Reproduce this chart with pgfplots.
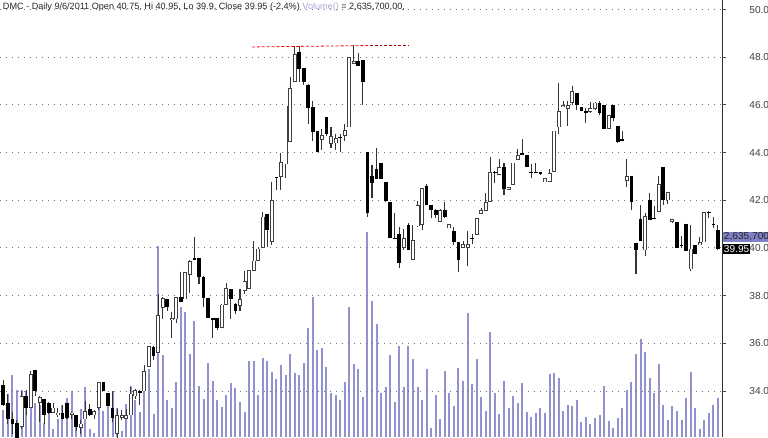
\documentclass[border=0pt]{standalone}
\usepackage{pgfplots}
\usepackage{pgfplotstable}
\usepackage{fontspec}
\setmainfont{Liberation Sans}
\pgfplotsset{compat=1.18}
\definecolor{volbar}{HTML}{9292D0}
\definecolor{volbox}{HTML}{8080C4}
\definecolor{voltxt}{HTML}{A9A9D8}
\pgfplotstableread{
i hi lo top bot
0 34.48 33.37 34.27 33.40
1 33.86 32.60 33.51 32.81
2 33.12 32.20 32.81 32.63
3 32.77 32.00 32.65 32.00
5 34.03 32.98 33.78 33.30
7 34.90 33.78 34.90 33.99
9 33.68 32.63 33.68 32.98
10 33.54 33.05 33.50 33.07
13 33.40 32.81 33.09 32.81
14 33.50 32.84 33.50 32.88
16 32.98 32.32 32.98 32.49
19 33.47 32.95 33.23 32.98
22 34.38 33.99 34.38 33.99
23 33.92 33.38 33.92 33.38
24 34.00 32.70 33.30 32.88
30 34.03 33.40 33.99 33.90
33 35.88 35.32 35.85 35.47
36 37.84 37.37 37.84 37.53
39 39.00 37.74 37.93 37.74
42 40.45 39.50 39.56 39.50
43 39.58 38.49 39.58 38.78
44 38.81 37.52 38.78 37.92
45 37.92 37.05 37.92 37.05
46 37.08 36.24 37.08 36.98
47 37.08 36.56 37.08 36.63
50 38.27 37.01 38.27 37.84
51 37.69 37.22 37.66 37.34
58 41.41 40.03 41.41 40.76
60 42.98 42.43 42.98 42.95
65 48.49 46.94 48.20 47.50
66 47.54 46.84 47.54 46.98
67 46.87 45.20 46.83 45.87
68 46.17 44.49 45.90 44.88
69 44.90 44.01 44.90 44.01
71 45.50 44.70 45.50 44.77
74 44.78 44.04 44.64 44.60
78 48.17 47.64 47.86 47.64
79 47.89 46.00 47.89 46.98
80 44.01 41.31 44.01 41.48
81 43.48 42.11 43.02 42.74
82 44.18 42.88 43.30 42.88
83 43.55 42.88 43.55 42.88
84 42.78 41.93 42.78 41.97
85 41.92 40.40 41.92 40.40
86 41.46 40.40 40.43 40.40
87 40.87 39.14 40.58 39.38
89 41.04 39.90 40.97 39.90
93 42.67 41.81 42.60 41.81
94 41.81 41.24 41.81 41.58
95 41.64 41.25 41.60 41.40
97 41.92 41.24 41.60 41.29
99 40.86 40.14 40.71 40.24
100 40.25 38.99 40.25 39.51
103 40.60 40.17 40.40 40.37
108 43.24 42.71 43.18 43.15
110 43.58 42.22 43.38 42.47
114 44.56 43.88 43.99 43.88
115 43.88 43.38 43.88 43.38
116 43.54 42.92 43.19 43.17
117 43.58 43.15 43.18 43.15
118 43.18 43.06 43.18 43.10
126 46.50 45.78 46.50 45.99
127 45.92 45.74 45.92 45.76
128 45.87 45.24 45.76 45.65
131 46.18 45.59 46.10 45.65
132 46.00 44.99 46.00 44.99
134 46.00 45.31 46.00 45.45
135 45.10 44.39 45.10 44.43
136 44.90 44.49 44.55 44.49
138 43.02 41.60 43.02 41.92
139 40.22 38.91 40.22 39.90
140 41.79 40.28 41.23 40.28
142 42.31 41.16 42.00 41.16
143 41.75 41.22 41.24 41.22
145 43.40 41.79 43.40 42.00
148 41.08 40.00 41.08 40.00
149 40.49 40.00 40.13 40.10
150 41.01 39.86 41.01 39.86
152 40.13 39.75 40.13 39.75
155 41.55 41.26 41.52 41.49
156 41.29 40.84 41.01 40.95
157 40.95 39.90 40.75 39.95
}\blackcandles
\pgfplotstableread{
i hi lo top bot
4 34.00 32.40 33.78 32.49
6 34.84 33.30 34.70 33.30
8 33.78 32.70 33.75 33.50
11 33.50 33.07 33.30 33.07
12 33.28 32.90 33.09 32.98
15 33.12 32.81 33.09 33.00
17 32.77 32.20 32.63 32.46
18 33.60 32.81 33.14 32.81
20 33.19 32.84 33.16 32.98
21 34.38 33.19 34.38 33.28
25 33.26 32.00 32.98 32.20
26 33.19 32.80 32.98 32.88
27 33.26 32.82 32.98 32.82
28 34.17 32.98 33.89 32.98
29 34.10 33.68 34.03 33.78
31 35.08 33.99 34.84 33.99
32 35.88 35.00 35.88 35.00
34 38.07 35.60 37.17 35.60
35 37.93 37.00 37.90 37.50
37 37.30 36.23 37.07 36.97
38 37.93 36.86 37.93 37.00
40 39.00 37.84 39.00 37.84
41 39.50 38.10 39.46 38.87
48 37.65 36.63 37.62 36.66
49 38.53 37.62 38.32 37.62
52 38.27 37.36 37.85 37.56
53 39.02 38.06 38.60 38.20
54 39.06 38.29 39.06 38.29
55 40.30 39.05 39.47 39.05
56 40.03 39.44 39.97 39.47
57 41.52 40.00 41.31 40.00
59 42.76 40.14 42.00 40.25
61 43.97 42.43 43.59 42.99
62 45.97 42.95 45.97 43.51
63 47.19 44.46 46.69 44.46
64 48.49 46.98 48.13 46.98
70 44.98 44.11 44.73 44.53
72 45.06 44.21 44.70 44.36
73 44.78 44.11 44.60 44.39
75 45.19 44.50 44.95 44.70
76 48.00 45.06 48.00 45.06
77 48.52 47.73 47.85 47.73
88 40.79 39.93 40.42 40.00
90 40.97 39.49 40.32 39.51
91 41.97 40.86 41.81 40.90
92 42.50 40.74 42.50 40.97
96 41.64 41.08 41.60 41.08
98 41.00 40.82 41.00 40.82
101 40.28 39.99 40.15 39.99
102 40.69 39.24 40.15 39.99
104 41.25 40.54 41.25 40.54
105 41.69 41.42 41.58 41.42
106 42.29 41.56 41.93 41.56
107 43.82 41.93 43.18 41.93
109 43.75 43.08 43.38 43.08
111 42.54 42.43 42.54 42.43
112 43.58 42.64 43.58 42.64
113 44.17 43.68 43.88 43.68
119 42.94 42.75 42.94 42.75
120 43.33 42.78 43.15 42.78
121 44.92 43.19 44.92 43.19
122 46.90 44.76 45.73 45.06
123 46.18 45.90 45.99 45.90
124 46.18 45.10 45.99 45.82
125 46.81 46.01 46.59 46.08
129 46.13 45.67 45.85 45.71
130 46.13 45.80 46.10 45.83
133 45.57 44.99 45.57 44.99
137 43.75 42.55 43.01 42.80
141 41.47 39.65 41.34 39.90
144 43.00 41.51 42.69 41.51
146 42.35 41.85 42.35 42.00
147 41.22 41.05 41.22 41.08
151 40.97 39.05 39.97 39.10
153 40.46 40.11 40.24 40.11
154 41.51 40.24 41.51 40.24
}\hollowcandles
\pgfplotstableread{
i v
0 1.83
1 2.91
2 4.19
3 3.18
4 3.18
5 3.11
6 2.97
7 2.30
8 2.16
9 0.95
10 1.62
11 0.54
12 1.22
13 2.16
14 2.64
15 3.11
16 0.68
17 1.89
18 3.38
19 0.54
20 0.27
21 2.37
22 1.76
23 2.37
24 3.11
25 1.96
26 0.41
27 2.23
28 3.45
29 2.50
30 1.69
31 3.18
32 4.60
33 1.55
34 12.91
35 5.54
36 2.50
37 1.96
38 3.72
39 8.79
40 8.45
41 5.61
42 7.84
43 3.45
44 2.57
45 5.00
46 3.79
47 2.50
48 2.03
49 2.84
50 3.65
51 3.31
52 2.37
53 1.69
54 5.14
55 5.14
56 2.84
57 5.34
58 5.14
59 4.39
60 3.92
61 4.87
62 4.19
63 5.61
64 4.33
65 4.19
66 5.00
67 7.37
68 9.46
69 5.88
70 6.02
71 4.73
72 2.97
73 2.84
74 2.50
75 3.72
76 8.79
77 4.93
78 4.60
79 2.70
80 13.86
81 9.19
82 7.64
83 2.97
84 3.38
85 5.54
86 2.37
87 6.15
88 3.38
89 6.15
90 5.27
91 3.38
92 2.50
93 4.60
94 0.61
95 2.84
96 1.22
97 4.46
98 2.97
99 2.10
100 4.66
101 3.79
102 8.38
103 3.58
104 5.27
105 2.70
106 1.76
107 7.10
108 2.97
109 1.55
110 3.79
111 1.96
112 2.77
113 2.30
114 3.65
115 1.69
116 1.35
117 1.62
118 1.96
119 1.62
120 4.26
121 4.33
122 3.99
123 1.76
124 2.16
125 2.10
126 2.50
127 1.01
128 1.35
129 0.88
130 1.28
131 1.49
132 3.45
133 1.08
134 0.61
135 1.28
136 1.96
137 3.18
138 3.72
139 5.61
140 6.62
141 5.75
142 3.99
143 2.97
144 4.93
145 2.16
146 1.15
147 2.10
148 1.76
149 1.15
150 2.64
151 4.39
152 1.96
153 0.54
154 1.15
155 1.62
156 2.16
157 2.6357
}\volumes
\pgfplotsset{
  base/.style={at={(0,0)},anchor=south west,scale only axis,
    width=542.0pt,height=327.75pt,xmin=-0.725,xmax=158.04},
  wick/.style={draw=none,mark=none,forget plot,
    error bars/.cd,y dir=minus,y explicit,error mark=none,
    error bar style={line width=0.8pt,color=black!80,line cap=butt}},
  body/.style 2 args={draw=none,mark=none,forget plot,
    error bars/.cd,y dir=minus,y explicit,error mark=none,
    error bar style={line width=#1,color=#2,line cap=butt}},
}
\begin{document}
\begin{tikzpicture}
\path[use as bounding box] (0,0) rectangle (576pt,327.75pt);
% volume
\begin{axis}[base,hide axis,ymin=0,ymax=29.54]
\addplot[ycomb,no markers,color=volbar,line width=1.5pt] table[x=i,y=v]{\volumes};
\end{axis}
% price
\begin{axis}[base,ymin=32.07,ymax=50.40,
  axis x line=none,axis y line*=right,
  axis line style={color=black!80,line width=0.9pt,-},
  ytick={34,36,...,50},
  yticklabel style={/pgf/number format/fixed,/pgf/number format/fixed zerofill,
    /pgf/number format/precision=1,/pgf/number format/assume math mode=true,
    font=\fontsize{7.6pt}{9pt}\selectfont,color=black!75,anchor=west,xshift=14pt},
  tick style={color=black!70,line width=0.6pt},
  major tick length=2.5pt,tick align=outside,
  ymajorgrids,
  grid style={color=black!55,line width=0.7pt,dash pattern=on 0.75pt off 3.75pt},
  clip=true]
\addplot[wick] table[x=i,y=hi,y error minus expr=\thisrow{hi}-\thisrow{lo}]{\blackcandles};
\addplot[wick] table[x=i,y=hi,y error minus expr=\thisrow{hi}-\thisrow{lo}]{\hollowcandles};
\addplot[body={2.8pt}{black}] table[x=i,y=top,y error minus expr=\thisrow{top}-\thisrow{bot}]{\blackcandles};
\addplot[body={3pt}{black!75}] table[x=i,y=top,y error minus expr=\thisrow{top}-\thisrow{bot}]{\hollowcandles};
\addplot[body={1.6pt}{white}] table[x=i,y expr=\thisrow{top}-0.03,y error minus expr=\thisrow{top}-\thisrow{bot}-0.06]{\hollowcandles};
\addplot[color=red,line width=0.6pt,dash pattern=on 2.2pt off 1.5pt,no markers,forget plot]
  coordinates {(54.6,48.43) (80.6,48.49)};
\addplot[color=black!30!red,line width=0.6pt,dash pattern=on 2pt off 1.5pt,no markers,forget plot]
  coordinates {(80.6,48.49) (88.9,48.49)};
\end{axis}
\node[anchor=west,inner sep=0pt,font=\fontsize{6.83pt}{8.5pt}\selectfont,color=black!85] at (2pt,322.2pt)
  {DMC - Daily 9/6/2011 Open 40.75, Hi 40.95, Lo 39.9, Close 39.95 (-2.4\%) \textcolor{voltxt}{Volume()} = 2,635,700.00,};
\fill[volbox] (542.3pt,146.5pt) rectangle (576pt,154pt);
\node[anchor=east,inner sep=0pt,font=\fontsize{7.6pt}{9pt}\selectfont,color=black!85] at (577pt,150.2pt) {2,635,700};
\fill[black] (542.3pt,137.5pt) rectangle (562.3pt,144.5pt);
\node[anchor=center,inner sep=0pt,font=\fontsize{7.6pt}{9pt}\selectfont,color=white] at (552.5pt,141pt) {39.95};
\end{tikzpicture}
\end{document}
